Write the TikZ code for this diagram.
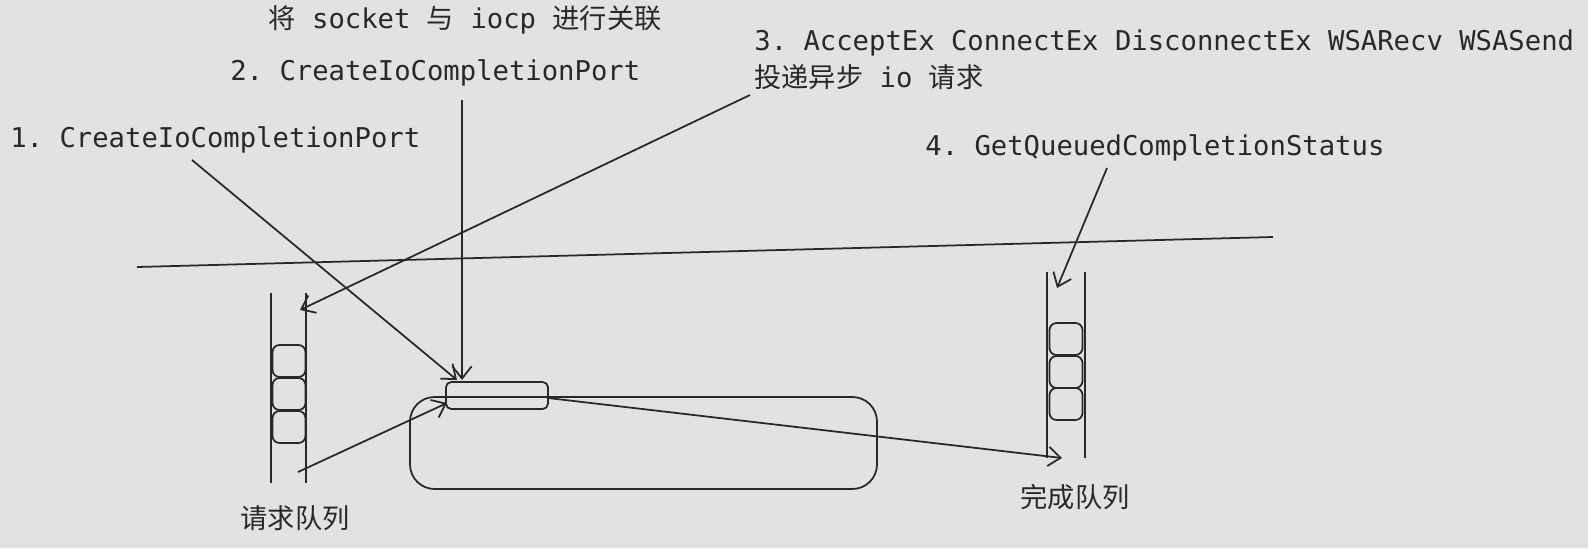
\documentclass[tikz,border=0pt]{standalone}
\usepackage{fontspec}
\setmonofont{DejaVu Sans Mono}
\newfontfamily\cjk{Noto Sans CJK SC}
\usetikzlibrary{arrows.meta}
\definecolor{bg}{RGB}{226,226,226}
\definecolor{ink}{RGB}{40,40,40}
\tikzset{
  lbl/.style={font=\ttfamily\fontsize{15.5}{17}\selectfont, text=ink, inner sep=0pt},
  cn/.style={font=\cjk\fontsize{15.5}{17}\selectfont, text=ink, inner sep=0pt},
  ln/.style={draw=ink, line width=1pt},
  arr/.style={ln, -{Straight Barb[length=7pt,width=11pt]}},
  cell/.style={draw=ink, line width=1pt, rounded corners=4pt, minimum width=0.66cm, minimum height=0.64cm, inner sep=0pt},
}
\begin{document}
\begin{tikzpicture}[x=0.02cm,y=-0.02cm]
\fill[bg] (0,0) rectangle (1588,548);
\useasboundingbox (0,0) rectangle (1588,548);
% texts
\node[lbl] (t0) at (465,20) {{\cjk 将} socket {\cjk 与} iocp {\cjk 进行关联}};
\node[lbl,anchor=west] (t2) at (230,73) {2. CreateIoCompletionPort};
\node[lbl,anchor=west] (t3) at (754,43) {3. AcceptEx ConnectEx DisconnectEx WSARecv WSASend};
\node[lbl,anchor=west] (t3b) at (754,77) {{\cjk 投递异步} io {\cjk 请求}};
\node[lbl,anchor=west] (t1) at (10,140) {1. CreateIoCompletionPort};
\node[lbl,anchor=west] (t4) at (925,148) {4. GetQueuedCompletionStatus};
\node[cn] (q1) at (295,518) {请求队列};
\node[cn] (q2) at (1075,497) {完成队列};
% divider
\draw[ln] (137,267) -- (1273,237);
% request queue
\draw[ln] (271,293) -- (271,483);
\draw[ln] (306,293) -- (306,483);
\node[cell] (r1) at (289,361) {};
\node[cell] (r2) at (289,394) {};
\node[cell] (r3) at (289,427) {};
% completion queue
\draw[ln] (1047,272) -- (1047,458);
\draw[ln] (1085,272) -- (1085,458);
\node[cell] (c1) at (1066,339) {};
\node[cell] (c2) at (1066,372) {};
\node[cell] (c3) at (1066,404) {};
% iocp
\draw[ln, rounded corners=14pt] (410,397) rectangle (877,489);
\node[draw=ink, line width=1pt, rounded corners=3pt, minimum width=2.04cm, minimum height=0.54cm, inner sep=0pt] (port) at (497,395.5) {};
\coordinate (a1s) at (192,160);
\coordinate (a2s) at (462,100);
\coordinate (a3s) at (750,95);
\coordinate (a3e) at (300,310);
\coordinate (a4s) at (1107,168);
\coordinate (a4e) at (1057,288);
\coordinate (a5s) at (298,472);
\coordinate (a6e) at (1062,458);
\draw[arr] (a1s) -- (457,380);
\draw[arr] (a2s) -- (462,380);
\draw[arr] (a3s) -- (a3e);
\draw[arr] (a4s) -- (a4e);
\draw[arr] (a5s) -- (447,403);
\draw[arr] (548,398) -- (a6e);
\end{tikzpicture}
\end{document}
